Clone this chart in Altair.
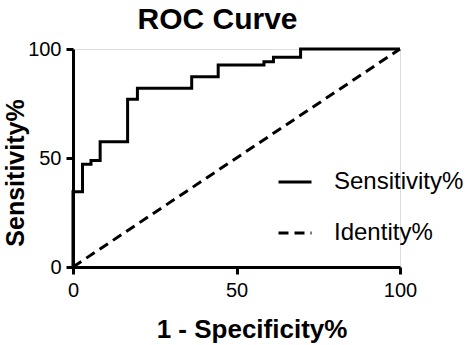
import altair as alt
import pandas as pd

# ROC curve vertices (1 - specificity %, sensitivity %)
roc_x = [0, 0, 2.9, 5.5, 8.3, 16.7, 19.7, 36.3, 44.4, 58.4, 61.3, 69.6, 100]
roc_y = [0, 34.5, 47.1, 48.8, 57.5, 76.9, 82.0, 87.3, 92.7, 94.2, 96.2, 100, 100]
id_x = [0, 100]
id_y = [0, 100]
series = ["Sensitivity%", "Identity%"]
ticks = [0, 50, 100]

roc_df = pd.DataFrame({"x": roc_x, "y": roc_y, "s": series[0], "o": range(len(roc_x))})
id_df = pd.DataFrame({"x": id_x, "y": id_y, "s": series[1], "o": range(len(id_x))})

FONT = "Liberation Sans"

xs = alt.Scale(domain=[0, 100], nice=False, zero=False)
ys = alt.Scale(domain=[0, 100], nice=False, zero=False)

dash = alt.StrokeDash(
    "s:N",
    scale=alt.Scale(domain=series, range=[[1, 0], [10, 6]]),
    legend=alt.Legend(
        title=None, orient="none", legendX=204, legendY=115,
        symbolType="stroke", symbolSize=1089, symbolStrokeWidth=3,
        symbolStrokeColor="black",
        labelFont=FONT, labelFontSize=24, labelColor="black",
        labelOffset=21, rowPadding=21,
    ),
)

xenc = alt.X("x:Q", scale=xs, axis=alt.Axis(
    values=ticks, title="1 - Specificity%", titleX=178.5, titleY=70,
    titleBaseline="alphabetic", titleFontSize=26, titleFontWeight="bold",
    titleFont=FONT, titleColor="black",
    labelFont=FONT, labelFontSize=20, labelColor="black", labelPadding=6,
    tickSize=7, tickWidth=3, tickColor="black", domainWidth=3,
    domainColor="black", grid=False, labelFlush=False,
))
yenc = alt.Y("y:Q", scale=ys, axis=alt.Axis(
    values=ticks, title="Sensitivity%", titleX=-50, titleY=123.5,
    titleBaseline="alphabetic", titleFontSize=25, titleFontWeight="bold",
    titleFont=FONT, titleColor="black",
    labelFont=FONT, labelFontSize=20, labelColor="black", labelPadding=5,
    tickSize=7, tickWidth=3, tickColor="black", domainWidth=3,
    domainColor="black", grid=False, labelFlush=False,
))

roc = alt.Chart(roc_df).mark_line(
    interpolate="step-after", color="black", strokeWidth=3
).encode(x=xenc, y=yenc, order="o:Q", strokeDash=dash)

ident = alt.Chart(id_df).mark_line(
    color="black", strokeWidth=3
).encode(x=xenc, y=yenc, order="o:Q", strokeDash=dash)

chart = alt.layer(roc, ident).properties(
    width=327, height=218,
    title=alt.TitleParams("ROC Curve", font=FONT, fontSize=30, fontWeight="bold",
                          color="black", dx=-19),
    autosize=alt.AutoSizeParams(type="none"),
    padding={"left": 73, "top": 49, "right": 74, "bottom": 78},
).configure_view(stroke=None).configure(background="white")

chart.save("out.html", embed_options={"renderer": "svg", "actions": False})
